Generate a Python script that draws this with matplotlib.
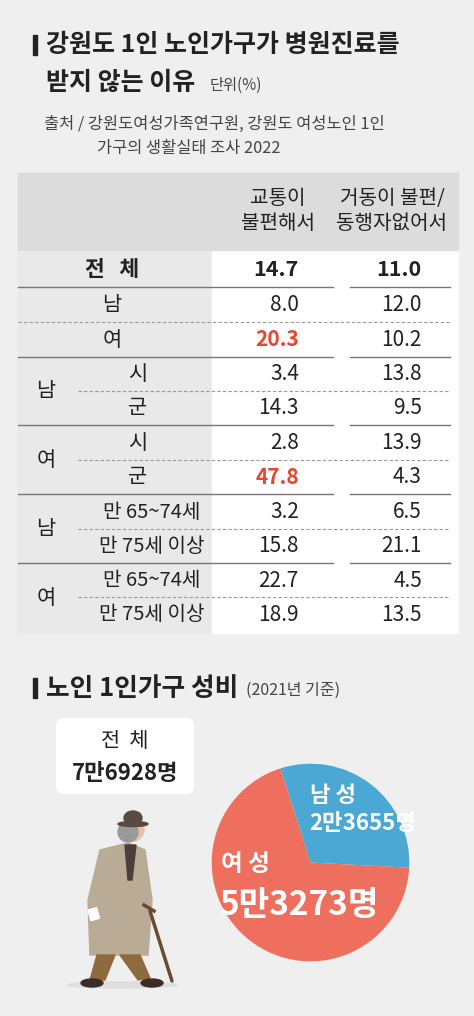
import matplotlib
matplotlib.use("Agg")
import matplotlib.pyplot as plt
from matplotlib.patches import Rectangle, FancyBboxPatch, Polygon, Ellipse, Circle

plt.rcParams['font.family'] = ['Noto Sans CJK KR', 'DejaVu Sans']

row_labels = ["전   체", "남", "여", "시", "군", "시", "군", "만 65~74세", "만 75세 이상", "만 65~74세", "만 75세 이상"]
group_labels = ["", "", "", "남", "", "여", "", "남", "", "여", ""]
transport = [14.7, 8.0, 20.3, 3.4, 14.3, 2.8, 47.8, 3.2, 15.8, 22.7, 18.9]
mobility = [11.0, 12.0, 10.2, 13.8, 9.5, 13.9, 4.3, 6.5, 21.1, 4.5, 13.5]
highlight = [False, False, True, False, False, False, True, False, False, False, False]
pie_labels = ["남 성", "여 성"]
pie_values = [23655, 53273]
pie_texts = ["2만3655명", "5만3273명"]
total_text = "7만6928명"

fig = plt.figure(figsize=(4.74, 10.16), dpi=100)
fig.patch.set_facecolor("#efefef")

# pie first (underneath)
pax = fig.add_axes([187 / 474, 1 - 986 / 1016, 247 / 474, 247 / 1016])
pax.pie(pie_values, colors=["#4ba7d3", "#ee6f5e"], startangle=-3, counterclock=True,
        wedgeprops=dict(linewidth=0))
pax.set_aspect("equal")

ax = fig.add_axes([0, 0, 1, 1])
ax.set_xlim(0, 474); ax.set_ylim(1016, 0); ax.axis("off")
ax.patch.set_alpha(0)

dark = "#222222"
ax.add_patch(Rectangle((33, 35), 4, 20, color=dark))
ax.text(46, 45, "강원도 1인 노인가구가 병원진료를", fontsize=18, fontweight="bold", va="center", color=dark)
ax.text(46, 83, "받지 않는 이유", fontsize=18, fontweight="bold", va="center", color=dark)
ax.text(210, 85, "단위(%)", fontsize=11, va="center", color="#444")
ax.text(44, 124, "출처 / 강원도여성가족연구원, 강원도 여성노인 1인", fontsize=11.8, va="center", color="#444")
ax.text(97, 148, "가구의 생활실태 조사 2022", fontsize=11.8, va="center", color="#444")

# table
ax.add_patch(Rectangle((18, 173), 440, 460, color="#e9e9e9", zorder=0))
ax.add_patch(Rectangle((212, 250), 246, 383, color="white", zorder=0))
ax.add_patch(Rectangle((18, 173), 440, 77, color="#dcdcdc", zorder=0))
ax.text(278, 211, "교통이\n불편해서", fontsize=14.5, ha="center", va="center", color=dark, linespacing=1.25)
ax.text(392, 211, "거동이 불편/\n동행자없어서", fontsize=14.5, ha="center", va="center", color=dark, linespacing=1.25)

ys = [270, 305, 340, 374, 408, 443, 477, 512, 546, 581, 615]
for i, y in enumerate(ys):
    bold = i == 0
    fs = 15.5 if bold else 15
    fw = "bold" if bold else "normal"
    if i < 3:
        ax.text(112, y, row_labels[i], fontsize=fs, fontweight=fw, ha="center", va="center", color=dark)
    elif i < 7:
        ax.text(138, y, row_labels[i], fontsize=15, ha="center", va="center", color=dark)
    else:
        ax.text(152, y, row_labels[i], fontsize=14.5, ha="center", va="center", color=dark)
    c = "#e8452c" if highlight[i] else dark
    ax.text(299, y, f"{transport[i]:.1f}", fontsize=fs, fontweight="bold" if (bold or highlight[i]) else "normal", ha="right", va="center", color=c)
    ax.text(422, y, f"{mobility[i]:.1f}", fontsize=fs, fontweight=fw, ha="right", va="center", color=dark)
    if group_labels[i]:
        ax.text(46, (y + ys[i + 1]) / 2, group_labels[i], fontsize=15, ha="center", va="center", color=dark)

solid = [287, 357, 425, 494, 563]
for y in solid:
    ax.plot([18, 333], [y, y], color="#777", lw=1)
    ax.plot([350, 450], [y, y], color="#777", lw=1)
dashed = [(18, 322), (78, 391), (78, 460), (78, 529), (78, 597)]
for x0, y in dashed:
    ax.plot([x0, 450], [y, y], color="#999", lw=0.8, ls=(0, (3, 2)))

# section 2
ax.add_patch(Rectangle((33, 678), 4, 20, color=dark))
ax.text(46, 688, "노인 1인가구 성비", fontsize=18.5, fontweight="bold", va="center", color=dark)
ax.text(246, 690, "(2021년 기준)", fontsize=11.5, va="center", color="#444")

ax.add_patch(FancyBboxPatch((56, 718), 138, 76, boxstyle="round,pad=0,rounding_size=8", fc="white", ec="none"))
ax.text(125, 741, "전  체", fontsize=15, ha="center", va="center", color=dark)
ax.text(125, 773, total_text, fontsize=16, fontweight="bold", ha="center", va="center", color=dark)

ax.text(310, 796, pie_labels[0], fontsize=16, fontweight="bold", ha="left", va="center", color="white", zorder=5)
ax.text(309, 823, pie_texts[0], fontsize=16, fontweight="bold", ha="left", va="center", color="white", zorder=5)
ax.text(221, 864, pie_labels[1], fontsize=17, fontweight="bold", ha="left", va="center", color="white", zorder=5)
ax.text(219, 905, pie_texts[1], fontsize=24, fontweight="bold", ha="left", va="center", color="white", zorder=5)

# old man figure
ax.add_patch(Ellipse((122, 985), 110, 6, color="#dedede"))
ax.add_patch(Polygon([[128, 843], [100, 850], [88, 900], [90, 955], [148, 955], [152, 900], [145, 850]], color="#b9ab96"))
ax.add_patch(Polygon([[125, 845], [136, 845], [132, 880], [128, 880]], color="#4a3f3a"))
ax.add_patch(Polygon([[97, 955], [115, 955], [105, 980], [90, 980]], color="#8f6a3e"))
ax.add_patch(Polygon([[120, 955], [140, 955], [150, 978], [138, 980]], color="#8f6a3e"))
ax.add_patch(Ellipse((92, 983), 22, 8, color="#3a2c28"))
ax.add_patch(Ellipse((152, 983), 22, 8, color="#3a2c28"))
ax.add_patch(Circle((133, 830), 11, color="#e6c3a8"))
ax.add_patch(Circle((128, 832), 10, color="#9a9a9a"))
ax.add_patch(Ellipse((133, 824), 30, 5, color="#5a4a44"))
ax.add_patch(Ellipse((133, 818), 18, 14, color="#5a4a44"))
ax.plot([150, 172], [911, 981], color="#6b4a30", lw=2.5, solid_capstyle="round")
ax.plot([144, 154], [905, 911], color="#6b4a30", lw=2.5)
ax.add_patch(Rectangle((88, 910), 9, 11, color="white", angle=-15))

fig.savefig("out.png", dpi=100, facecolor=fig.get_facecolor())
